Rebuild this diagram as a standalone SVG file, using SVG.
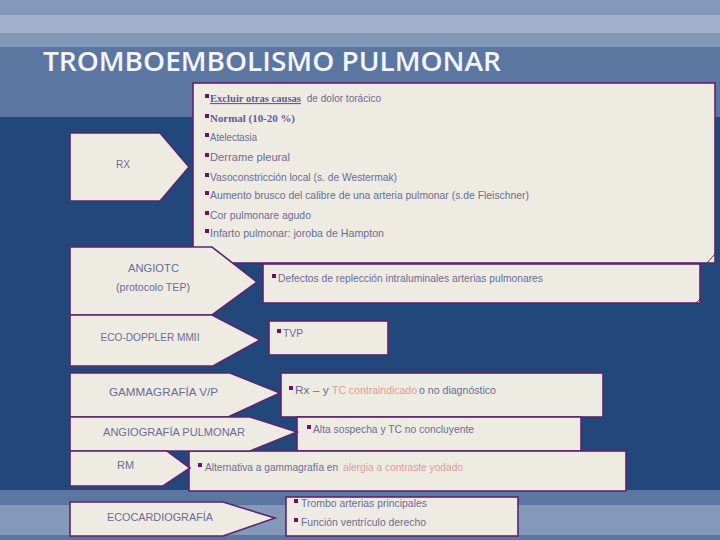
<svg xmlns="http://www.w3.org/2000/svg" width="720" height="540" viewBox="0 0 720 540">
<style>
.nd{fill:#eeebe3;stroke:#5e2470;stroke-width:1.6;stroke-linejoin:miter}
.lb{font-family:"Liberation Sans",Arial,sans-serif;font-size:11px;fill:#6b6b98;text-anchor:middle}
.tx{font-family:"Liberation Sans",Arial,sans-serif;font-size:10.5px;fill:#6b6b98}
.bd{font-family:"Liberation Serif","Times New Roman",serif;font-size:11px;font-weight:bold;fill:#5c5c9e}
.rd{fill:#e39a9a}
.bu{fill:#6e0f6e}
.fold{fill:none;stroke:#5e2470;stroke-width:1}
</style>
<defs>
<rect id="b" width="4" height="4" class="bu"/>
</defs>
<!-- background -->
<rect x="0" y="0" width="720" height="540" fill="#21477b"/>
<rect x="0" y="0" width="720" height="15" fill="#8499b9"/>
<rect x="0" y="15" width="720" height="18" fill="#a2b2cc"/>
<rect x="0" y="33" width="720" height="14" fill="#8499b9"/>
<rect x="0" y="47" width="720" height="70" fill="#5b77a1"/>
<rect x="0" y="490" width="720" height="15" fill="#5b77a1"/>
<rect x="0" y="505" width="720" height="30" fill="#8499b9"/>
<rect x="0" y="535" width="720" height="5" fill="#5b77a1"/>
<text x="43" y="71" font-family="'Open Sans','Liberation Sans',sans-serif" font-size="27" font-weight="600" fill="#f2f5fa" textLength="458" lengthAdjust="spacingAndGlyphs">TROMBOEMBOLISMO PULMONAR</text>

<!-- right-hand content boxes -->
<g id="rx-box">
<rect class="nd" x="193" y="83" width="522" height="180"/>
<path class="fold" d="M707 263 L715 254"/>
<use href="#b" x="205" y="94"/>
<text x="210" y="102"><tspan class="bd" text-decoration="underline" textLength="91" lengthAdjust="spacingAndGlyphs">Excluir otras causas</tspan><tspan class="tx" x="304" textLength="77" lengthAdjust="spacingAndGlyphs"> de dolor torácico</tspan></text>
<use href="#b" x="205" y="114"/>
<text class="bd" x="210" y="122" textLength="85" lengthAdjust="spacingAndGlyphs">Normal (10-20 %)</text>
<use href="#b" x="205" y="133"/>
<text class="tx" x="210" y="141" textLength="47" lengthAdjust="spacingAndGlyphs">Atelectasia</text>
<use href="#b" x="205" y="153"/>
<text class="tx" x="210" y="161" textLength="80" lengthAdjust="spacingAndGlyphs">Derrame pleural</text>
<use href="#b" x="205" y="173"/>
<text class="tx" x="210" y="181" textLength="187" lengthAdjust="spacingAndGlyphs">Vasoconstricción local (s. de Westermak)</text>
<use href="#b" x="205" y="191"/>
<text class="tx" x="210" y="199" textLength="319" lengthAdjust="spacingAndGlyphs">Aumento brusco del calibre de una arteria pulmonar (s.de Fleischner)</text>
<use href="#b" x="205" y="211"/>
<text class="tx" x="210" y="219" textLength="101" lengthAdjust="spacingAndGlyphs">Cor pulmonare agudo</text>
<use href="#b" x="205" y="229"/>
<text class="tx" x="210" y="237" textLength="174" lengthAdjust="spacingAndGlyphs">Infarto pulmonar: joroba de Hampton</text>
</g>

<g id="angiotc-box">
<rect class="nd" x="263" y="264" width="437" height="39"/>
<path class="fold" d="M696 303 L700 299"/>
<use href="#b" x="272" y="274"/>
<text class="tx" x="278" y="282" textLength="265" lengthAdjust="spacingAndGlyphs">Defectos de replección intraluminales arterias pulmonares</text>
</g>

<g id="eco-doppler-box">
<rect class="nd" x="269" y="321" width="119" height="34"/>
<use href="#b" x="277" y="329"/>
<text class="tx" x="283" y="337" textLength="20" lengthAdjust="spacingAndGlyphs">TVP</text>
</g>

<g id="gamma-box">
<rect class="nd" x="281" y="373" width="322" height="44"/>
<use href="#b" x="289" y="386"/>
<text class="tx" x="295" y="394"><tspan textLength="37" lengthAdjust="spacingAndGlyphs">Rx – y </tspan><tspan class="rd" x="332" textLength="85" lengthAdjust="spacingAndGlyphs">TC contraindicado</tspan><tspan x="419" textLength="77" lengthAdjust="spacingAndGlyphs">o no diagnóstico</tspan></text>
</g>

<g id="angiografia-box">
<rect class="nd" x="297" y="417" width="284" height="34"/>
<use href="#b" x="307" y="425"/>
<text class="tx" x="313" y="433" textLength="161" lengthAdjust="spacingAndGlyphs">Alta sospecha y TC no concluyente</text>
</g>

<g id="rm-box">
<rect class="nd" x="189" y="451" width="437" height="40"/>
<use href="#b" x="198" y="463"/>
<text class="tx" x="205" y="471"><tspan textLength="136" lengthAdjust="spacingAndGlyphs">Alternativa a gammagrafía en </tspan><tspan class="rd" x="343" textLength="120" lengthAdjust="spacingAndGlyphs">alergia a contraste yodado</tspan></text>
</g>

<g id="ecocardio-box">
<rect class="nd" x="286" y="497" width="232" height="39"/>
<use href="#b" x="294" y="499"/>
<text class="tx" x="301" y="507" textLength="126" lengthAdjust="spacingAndGlyphs">Trombo arterias principales</text>
<use href="#b" x="294" y="518"/>
<text class="tx" x="301" y="526" textLength="125" lengthAdjust="spacingAndGlyphs">Función ventrículo derecho</text>
</g>

<!-- left arrow nodes -->
<g id="rx">
<polygon class="nd" points="70,133 160,133 189,167 160,201 70,201"/>
<text class="lb" x="123" y="168" textLength="14" lengthAdjust="spacingAndGlyphs">RX</text>
</g>
<g id="angiotc">
<polygon class="nd" points="70,247 212,247 257,282 212,315 70,315"/>
<text class="lb" x="153.5" y="272" textLength="51" lengthAdjust="spacingAndGlyphs">ANGIOTC</text>
<text class="lb" x="153" y="291" textLength="74" lengthAdjust="spacingAndGlyphs">(protocolo TEP)</text>
</g>
<g id="eco-doppler">
<polygon class="nd" points="70,315 212,315 260,340 213,366 70,366"/>
<text class="lb" x="150" y="341" textLength="99" lengthAdjust="spacingAndGlyphs">ECO-DOPPLER MMII</text>
</g>
<g id="gammagrafia">
<polygon class="nd" points="70,373 230,373 280,393 228,417 70,417"/>
<text class="lb" x="163.5" y="396" textLength="109" lengthAdjust="spacingAndGlyphs">GAMMAGRAFÍA  V/P</text>
</g>
<g id="angiografia">
<polygon class="nd" points="70,417 250,417 297,432 250,451 70,451"/>
<text class="lb" x="174" y="436" textLength="142" lengthAdjust="spacingAndGlyphs">ANGIOGRAFÍA PULMONAR</text>
</g>
<g id="rm">
<polygon class="nd" points="70,451 167,451 190,468 163,486 70,486"/>
<text class="lb" x="125.5" y="469" textLength="17" lengthAdjust="spacingAndGlyphs">RM</text>
</g>
<g id="ecocardiografia">
<polygon class="nd" points="70,502 223,502 275,518 223,536 70,536"/>
<text class="lb" x="160" y="521" textLength="106" lengthAdjust="spacingAndGlyphs">ECOCARDIOGRAFÍA</text>
</g>
<g id="connectors"></g>
</svg>
